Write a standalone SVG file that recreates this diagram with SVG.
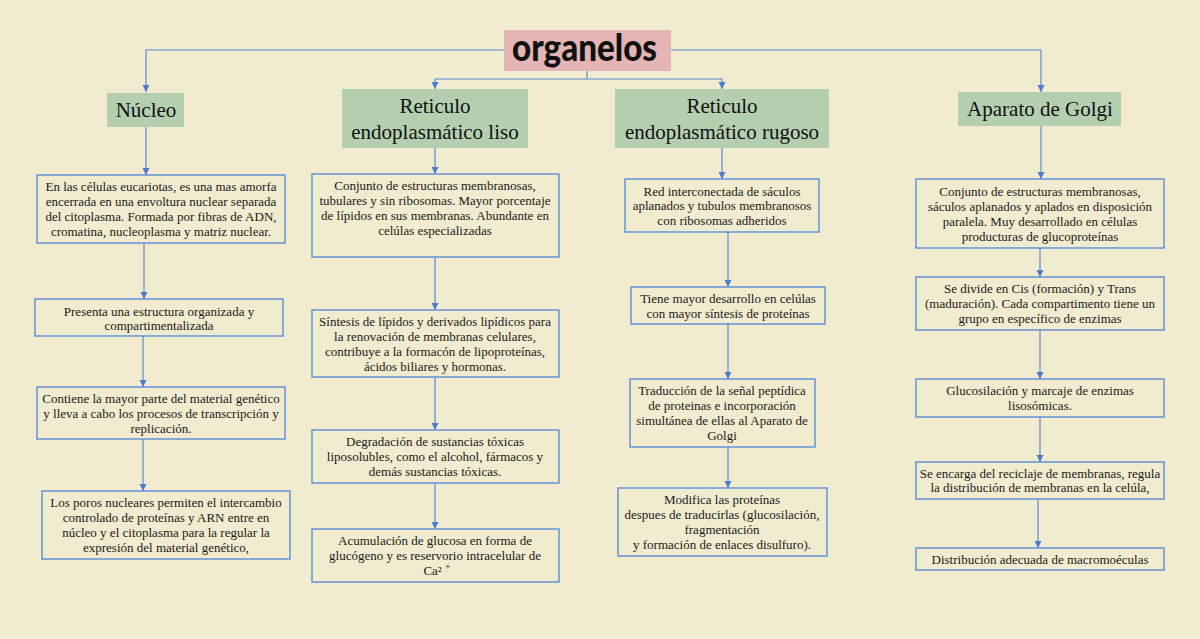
<svg xmlns="http://www.w3.org/2000/svg" width="1200" height="639" viewBox="0 0 1200 639">
<defs>
<marker id="ah" markerUnits="userSpaceOnUse" markerWidth="8" markerHeight="8" refX="7" refY="4" orient="auto">
<path d="M0,0.5 L7,4 L0,7.5 z" fill="#4a7cd2"/>
</marker>
<style>
.bg{fill:#f1ebcf}
.hdr{fill:#b3cfb0}
.box{fill:none;stroke:#5b8ed6;stroke-width:1.4}
.con{fill:none;stroke:#5a8ad2;stroke-width:1.2}
.arr{marker-end:url(#ah)}
.h{font-family:"Liberation Serif",serif;font-size:21px;fill:#111;text-anchor:middle}
.t{font-family:"Liberation Serif",serif;font-size:13px;fill:#1a1a1a;text-anchor:middle}
.title{font-family:Lato,"Noto Sans",sans-serif;font-weight:900;font-size:38px;fill:#111}
</style>
</defs>
<rect class="bg" x="0" y="0" width="1200" height="639"/>

<g id="connectors">
<path class="con arr" d="M504,50 H146 V92"/>
<path class="con arr" d="M671,50 H1041 V92"/>
<path class="con" d="M587,71 V79"/>
<path class="con arr" d="M587,79 H435 V89"/>
<path class="con arr" d="M587,79 H722 V89"/>
<path class="con arr" d="M146,127 V175"/>
<path class="con arr" d="M144,243 V299"/>
<path class="con arr" d="M143,336 V387"/>
<path class="con arr" d="M143,439 V491"/>
<path class="con arr" d="M435,148 V174"/>
<path class="con arr" d="M435,257 V310"/>
<path class="con arr" d="M435,377 V430"/>
<path class="con arr" d="M435,483 V529"/>
<path class="con arr" d="M722,148 V179"/>
<path class="con arr" d="M728,232 V287"/>
<path class="con arr" d="M728,324 V379"/>
<path class="con arr" d="M728,447 V488"/>
<path class="con arr" d="M1041,126 V179"/>
<path class="con arr" d="M1040,248 V277"/>
<path class="con arr" d="M1040,330 V379"/>
<path class="con arr" d="M1040,417 V462"/>
<path class="con arr" d="M1038,499 V548"/>
</g>

<g id="title">
<rect x="504" y="30" width="167" height="41" fill="#e4b5b4"/>
<text class="title" x="512" y="61" textLength="145" lengthAdjust="spacingAndGlyphs">organelos</text>
</g>

<g id="nucleo">
<rect class="hdr" x="107" y="93" width="77" height="34"/>
<text class="h" x="146" y="117">Núcleo</text>
</g>
<g id="re-liso">
<rect class="hdr" x="342" y="89" width="186" height="59"/>
<text class="h" x="435" y="113">Reticulo</text>
<text class="h" x="435" y="139">endoplasmático liso</text>
</g>
<g id="re-rugoso">
<rect class="hdr" x="615" y="89" width="214" height="59"/>
<text class="h" x="722" y="113">Reticulo</text>
<text class="h" x="722" y="139">endoplasmático rugoso</text>
</g>
<g id="golgi">
<rect class="hdr" x="958" y="92" width="163" height="34"/>
<text class="h" x="1040" y="116">Aparato de Golgi</text>
</g>

<g id="n1">
<rect class="box" x="37" y="175" width="248" height="68"/>
<text class="t" x="161" y="191">En las células eucariotas, es una mas amorfa</text>
<text class="t" x="161" y="206">encerrada en una envoltura nuclear separada</text>
<text class="t" x="161" y="221">del citoplasma. Formada por fibras de ADN,</text>
<text class="t" x="161" y="236">cromatina, nucleoplasma y matriz nuclear.</text>
</g>
<g id="n2">
<rect class="box" x="35" y="299" width="248" height="37"/>
<text class="t" x="159" y="316">Presenta una estructura organizada y</text>
<text class="t" x="159" y="330">compartimentalizada</text>
</g>
<g id="n3">
<rect class="box" x="37" y="387" width="248" height="52"/>
<text class="t" x="161" y="403">Contiene la mayor parte del material genético</text>
<text class="t" x="161" y="418">y lleva a cabo los procesos de transcripción y</text>
<text class="t" x="161" y="433">replicación.</text>
</g>
<g id="n4">
<rect class="box" x="42" y="491" width="248" height="68"/>
<text class="t" x="166" y="507">Los poros nucleares permiten el intercambio</text>
<text class="t" x="166" y="522">controlado de proteínas y ARN entre en</text>
<text class="t" x="166" y="537">núcleo y el citoplasma para la regular la</text>
<text class="t" x="166" y="552">expresión del material genético,</text>
</g>

<g id="l1">
<rect class="box" x="312" y="174" width="247" height="83"/>
<text class="t" x="435" y="190">Conjunto de estructuras membranosas,</text>
<text class="t" x="435" y="205">tubulares y sin ribosomas. Mayor porcentaje</text>
<text class="t" x="435" y="220">de lípidos en sus membranas. Abundante en</text>
<text class="t" x="435" y="235">celúlas especializadas</text>
</g>
<g id="l2">
<rect class="box" x="312" y="310" width="247" height="67"/>
<text class="t" x="435" y="326">Síntesis de lípidos y derivados lipídicos para</text>
<text class="t" x="435" y="341">la renovación de membranas celulares,</text>
<text class="t" x="435" y="356">contribuye a la formacón de lipoproteínas,</text>
<text class="t" x="435" y="371">ácidos biliares y hormonas.</text>
</g>
<g id="l3">
<rect class="box" x="312" y="430" width="247" height="53"/>
<text class="t" x="435" y="446">Degradación de sustancias tóxicas</text>
<text class="t" x="435" y="461">liposolubles, como el alcohol, fármacos y</text>
<text class="t" x="435" y="476">demás sustancias tóxicas.</text>
</g>
<g id="l4">
<rect class="box" x="312" y="529" width="247" height="53"/>
<text class="t" x="435" y="545">Acumulación de glucosa en forma de</text>
<text class="t" x="435" y="560">glucógeno y es reservorio intracelular de</text>
<text class="t" x="437" y="575">Ca² <tspan font-size="10" dy="-5">+</tspan></text>
</g>

<g id="r1">
<rect class="box" x="625" y="179" width="194" height="53"/>
<text class="t" x="722" y="196">Red interconectada de sáculos</text>
<text class="t" x="722" y="210">aplanados y tubulos membranosos</text>
<text class="t" x="722" y="225">con ribosomas adheridos</text>
</g>
<g id="r2">
<rect class="box" x="631" y="287" width="194" height="37"/>
<text class="t" x="728" y="303">Tiene mayor desarrollo en celúlas</text>
<text class="t" x="728" y="318">con mayor síntesis de proteínas</text>
</g>
<g id="r3">
<rect class="box" x="630" y="379" width="185" height="68"/>
<text class="t" x="722" y="395">Traducción de la señal peptídica</text>
<text class="t" x="722" y="410">de proteinas e incorporación</text>
<text class="t" x="722" y="425">simultánea de ellas al Aparato de</text>
<text class="t" x="722" y="440">Golgi</text>
</g>
<g id="r4">
<rect class="box" x="618" y="488" width="209" height="68"/>
<text class="t" x="722" y="504">Modifica las proteínas</text>
<text class="t" x="722" y="519">despues de traducirlas (glucosilación,</text>
<text class="t" x="722" y="534">fragmentación</text>
<text class="t" x="722" y="549">y formación de enlaces disulfuro).</text>
</g>

<g id="g1">
<rect class="box" x="916" y="179" width="248" height="69"/>
<text class="t" x="1040" y="196">Conjunto de estructuras membranosas,</text>
<text class="t" x="1040" y="211">sáculos aplanados y aplados en disposición</text>
<text class="t" x="1040" y="226">paralela. Muy desarrollado en células</text>
<text class="t" x="1040" y="241">producturas de glucoproteínas</text>
</g>
<g id="g2">
<rect class="box" x="916" y="277" width="248" height="53"/>
<text class="t" x="1040" y="293">Se divide en Cis (formación) y Trans</text>
<text class="t" x="1040" y="308">(maduración). Cada compartimento tiene un</text>
<text class="t" x="1040" y="323">grupo en específico de enzimas</text>
</g>
<g id="g3">
<rect class="box" x="916" y="379" width="248" height="38"/>
<text class="t" x="1040" y="395">Glucosilación y marcaje de enzimas</text>
<text class="t" x="1040" y="410">lisosómicas.</text>
</g>
<g id="g4">
<rect class="box" x="916" y="462" width="248" height="37"/>
<text class="t" x="1040" y="478">Se encarga del reciclaje de membranas, regula</text>
<text class="t" x="1040" y="492">la distribución de membranas en la celúla,</text>
</g>
<g id="g5">
<rect class="box" x="916" y="548" width="248" height="22"/>
<text class="t" x="1040" y="564">Distribución adecuada de macromoéculas</text>
</g>
</svg>
